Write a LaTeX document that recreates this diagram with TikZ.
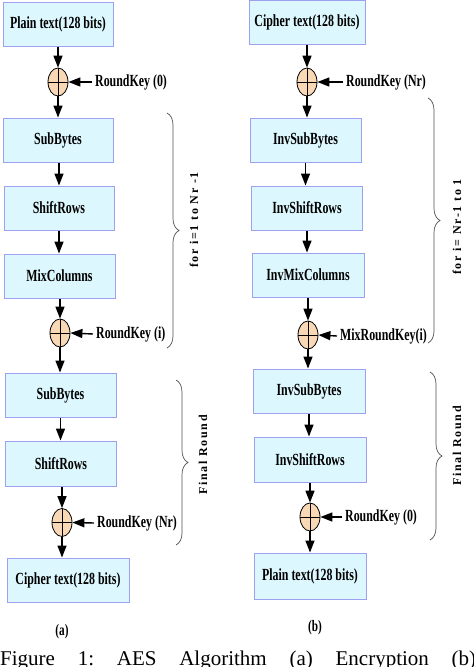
\documentclass[tikz,border=0pt]{standalone}
\usepackage{fontspec}
\setmainfont{Liberation Serif}
\newfontfamily\boxfont[FakeStretch=0.7]{Liberation Serif}
\newfontfamily\sidefont[LetterSpace=14]{Liberation Serif}
\usetikzlibrary{shapes.geometric,arrows.meta,decorations.pathreplacing}
\definecolor{boxfill}{HTML}{DCF8FE}
\definecolor{boxline}{HTML}{A0A0F0}
\definecolor{xorfill}{HTML}{F9D8B6}
\definecolor{bracecol}{HTML}{505050}
\tikzset{
 stage/.style={draw=boxline, fill=boxfill, line width=1pt, minimum width=111pt, minimum height=44pt, inner sep=0pt, font=\boxfont\bfseries\fontsize{17}{20}\selectfont},
 xorop/.style={ellipse, draw=black, fill=xorfill, line width=0.8pt, minimum width=20pt, minimum height=28pt, inner sep=0pt},
 crossline/.style={line width=0.8pt},
 arr/.style={line width=1.4pt, -{Triangle[length=12pt,width=9pt]}},
 keylab/.style={anchor=west, inner sep=3pt, font=\boxfont\bfseries\fontsize{17}{20}\selectfont},
 brc/.style={decorate, decoration={brace, amplitude=12pt}, draw=bracecol, line width=0.7pt},
 vlab/.style={rotate=90, inner sep=0pt, font=\sidefont\bfseries\fontsize{12}{14}\selectfont},
 sublab/.style={inner sep=0pt, font=\boxfont\bfseries\fontsize{16}{18}\selectfont},
}
\begin{document}
\begin{tikzpicture}[x=1pt,y=-1pt]
\useasboundingbox (0,0) rectangle (474,667);
% ---------- (a) encryption ----------
\node[stage, minimum width=110pt] (P1) at (58,24) {Plain text(128 bits)};
\node[xorop] (X1) at (58,82) {};
\node[stage, minimum width=110pt] (SB1) at (58,140) {SubBytes};
\node[stage, minimum width=110pt] (SR1) at (59,208) {ShiftRows};
\node[stage] (MC1) at (59.5,276) {MixColumns};
\node[xorop] (X2) at (60,333) {};
\node[stage] (SB2) at (60.5,395) {SubBytes};
\node[stage, minimum height=45pt] (SR2) at (61,463.5) {ShiftRows};
\node[xorop] (X3) at (62,522.5) {};
\node[stage, minimum width=122pt] (CT1) at (68,580) {Cipher text(128 bits)};
\node[sublab] (LA) at (62,632) {(a)};

\node[keylab] (K1) at (92,82) {RoundKey (0)};
\node[keylab] (K2) at (93,334) {RoundKey (i)};
\node[keylab] (K3) at (94,523) {RoundKey (Nr)};

\foreach \x in {X1,X2,X3}{\draw[crossline] (\x.west) -- (\x.east) (\x.north) -- (\x.south);}

\draw[arr] (X1 |- P1.south) -- (X1.north);
\draw[arr] (X1.south) -- (X1 |- SB1.north);
\draw[arr] (SB1.south -| SR1) -- (SR1.north);
\draw[arr] (SR1.south) -- (SR1.south |- MC1.north);
\draw[arr] (X2 |- MC1.south) -- (X2.north);
\draw[arr] (X2.south) -- (X2 |- SB2.north);
\draw[arr] (SB2.south) -- (SB2.south |- SR2.north);
\draw[arr] (X3 |- SR2.south) -- (X3.north);
\draw[arr] (X3.south) -- (X3 |- CT1.north);
\draw[arr] (K1.west) -- (X1.east);
\draw[arr] (K2.west) -- (X2.east);
\draw[arr] (K3.west) -- (X3.east);

\draw[brc] (167,113) -- (167,348);
\node[vlab] (F1) at (194,220) {for i=1 to Nr -1};
\draw[brc] (176,380) -- (176,545);
\node[vlab] (F2) at (203,455) {Final Round};

% ---------- (b) decryption ----------
\node[stage, minimum width=116pt] (C2) at (307,22) {Cipher text(128 bits)};
\node[xorop] (Y1) at (307,82) {};
\node[stage] (ISB1) at (305.5,140) {InvSubBytes};
\node[stage] (ISR1) at (307,208) {InvShiftRows};
\node[stage, minimum width=112pt] (IMC) at (308,275) {InvMixColumns};
\node[xorop] (Y2) at (308,335) {};
\node[stage, minimum width=112pt] (ISB2) at (309,391) {InvSubBytes};
\node[stage, minimum width=112pt, minimum height=45pt] (ISR2) at (310,459.5) {InvShiftRows};
\node[xorop] (Y3) at (310,517) {};
\node[stage, minimum width=112pt, minimum height=46pt] (PT2) at (310,576) {Plain text(128 bits)};
\node[sublab] (LB) at (315,628) {(b)};

\node[keylab] (J1) at (343,82) {RoundKey (Nr)};
\node[keylab] (J2) at (337,336) {MixRoundKey(i)};
\node[keylab] (J3) at (342,517) {RoundKey (0)};

\foreach \x in {Y1,Y2,Y3}{\draw[crossline] (\x.west) -- (\x.east) (\x.north) -- (\x.south);}

\draw[arr] (Y1 |- C2.south) -- (Y1.north);
\draw[arr] (Y1.south) -- (Y1 |- ISB1.north);
\draw[arr] (ISB1.south) -- (ISB1.south |- ISR1.north);
\draw[arr] (ISR1.south) -- (ISR1.south |- IMC.north);
\draw[arr] (Y2 |- IMC.south) -- (Y2.north);
\draw[arr] (Y2.south) -- (Y2 |- ISB2.north);
\draw[arr] (ISB2.south) -- (ISB2.south |- ISR2.north);
\draw[arr] (Y3 |- ISR2.south) -- (Y3.north);
\draw[arr] (Y3.south) -- (Y3 |- PT2.north);
\draw[arr] (J1.west) -- (Y1.east);
\draw[arr] (J2.west) -- (Y2.east);
\draw[arr] (J3.west) -- (Y3.east);

\draw[brc] (428,98) -- (428,343);
\node[vlab] (G1) at (457,227) {for i= Nr-1 to 1};
\draw[brc] (430,372) -- (430,540);
\node[vlab] (G2) at (457,446) {Final Round};

% ---------- caption ----------
\node[anchor=base west, text width=476pt, inner sep=0pt, font=\fontsize{21}{24}\selectfont] (CAP) at (0,665) {\noindent Figure\hfill 1:\hfill AES\hfill Algorithm\hfill (a)\hfill Encryption\hfill (b)};
\end{tikzpicture}
\end{document}
